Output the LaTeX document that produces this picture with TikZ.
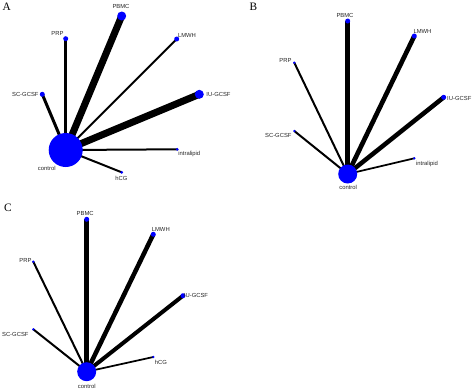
\documentclass[tikz,border=0pt]{standalone}
\usepackage{fontspec}
\setmainfont{Liberation Serif}
\setsansfont{Liberation Sans}
\usetikzlibrary{backgrounds}
\tikzset{
  trt/.style={circle,fill=blue,draw=none,inner sep=0pt,outer sep=0pt},
  lbl/.style={inner sep=0pt,outer sep=0pt,text=black!85,font=\sffamily\fontsize{4.4}{5.3}\selectfont},
  panel/.style={inner sep=0pt,outer sep=0pt,font=\rmfamily\fontsize{8.5}{10}\selectfont},
  link/.style={draw=black,line cap=butt}
}
\begin{document}
\begin{tikzpicture}[x=.75pt,y=-.75pt]
\path[use as bounding box] (0,0) rectangle (474,390);
% panel A
\node[panel] (labA) at (6.8,7) {A};
\node[trt,minimum size=25.5pt] (ctrlA) at (65.7,150) {};
\node[trt,minimum size=6.75pt] (pbmcA) at (121.7,16) {};
\node[trt,minimum size=3.75pt] (prpA) at (65.7,38.7) {};
\node[trt,minimum size=3.75pt] (lmwhA) at (176.7,39) {};
\node[trt,minimum size=3.75pt] (scgA) at (42.3,94.3) {};
\node[trt,minimum size=6.75pt] (iugA) at (199.3,94.3) {};
\node[trt,minimum size=2.25pt] (lipA) at (177.3,149.3) {};
\node[trt,minimum size=2.25pt] (hcgA) at (121.7,172.3) {};
\node[lbl] (pbmcAl) at (121,6.3) {PBMC};
\node[lbl] (prpAl) at (57.5,33.3) {PRP};
\node[lbl] (lmwhAl) at (187,35) {LMWH};
\node[lbl] (scgAl) at (25.3,94.5) {SC-GCSF};
\node[lbl] (iugAl) at (218.5,94.8) {IU-GCSF};
\node[lbl] (lipAl) at (189.3,154.2) {intralipid};
\node[lbl] (hcgAl) at (121.5,178) {hCG};
\node[lbl] (ctrlAl) at (46.8,168.2) {control};
% panel B
\node[panel] (labB) at (253.3,7) {B};
\node[trt,minimum size=14.25pt] (ctrlB) at (347.7,174) {};
\node[trt,minimum size=3.75pt] (pbmcB) at (347.7,21) {};
\node[trt,minimum size=3.75pt] (lmwhB) at (414.3,36) {};
\node[trt,minimum size=1.9pt] (prpB) at (294.3,62.7) {};
\node[trt,minimum size=3.75pt] (iugB) at (443.7,97.3) {};
\node[trt,minimum size=1.9pt] (scgB) at (294.3,131) {};
\node[trt,minimum size=1.9pt] (lipB) at (414.3,158.3) {};
\node[lbl] (pbmcBl) at (345,15) {PBMC};
\node[lbl] (lmwhBl) at (422.5,31) {LMWH};
\node[lbl] (prpBl) at (285.5,60) {PRP};
\node[lbl] (iugBl) at (459.3,98.3) {IU-GCSF};
\node[lbl] (scgBl) at (278.3,135) {SC-GCSF};
\node[lbl] (lipBl) at (427,163.5) {intralipid};
\node[lbl] (ctrlBl) at (348.2,187.5) {control};
% panel C
\node[panel] (labC) at (8,207.8) {C};
\node[trt,minimum size=14.25pt] (ctrlC) at (86.7,371.7) {};
\node[trt,minimum size=3.75pt] (pbmcC) at (86.7,219.3) {};
\node[trt,minimum size=3.75pt] (lmwhC) at (153.3,234.3) {};
\node[trt,minimum size=1.9pt] (prpC) at (33.3,261.7) {};
\node[trt,minimum size=3.75pt] (iugC) at (183,295.7) {};
\node[trt,minimum size=1.9pt] (scgC) at (33.3,329.3) {};
\node[trt,minimum size=1.9pt] (hcgC) at (153.3,357) {};
\node[lbl] (pbmcCl) at (85.2,213.3) {PBMC};
\node[lbl] (lmwhCl) at (160.8,229.3) {LMWH};
\node[lbl] (prpCl) at (25.5,260) {PRP};
\node[lbl] (iugCl) at (196,295.8) {IU-GCSF};
\node[lbl] (scgCl) at (15.3,334.2) {SC-GCSF};
\node[lbl] (hcgCl) at (160.8,362.5) {hCG};
\node[lbl] (ctrlCl) at (86.8,386.2) {control};
% links behind the nodes
\begin{scope}[on background layer]
\draw[link,line width=5.25pt] (ctrlA.center) -- (pbmcA.center);
\draw[link,line width=2.25pt] (ctrlA.center) -- (prpA.center);
\draw[link,line width=1.5pt] (ctrlA.center) -- (lmwhA.center);
\draw[link,line width=2.25pt] (ctrlA.center) -- (scgA.center);
\draw[link,line width=5.25pt] (ctrlA.center) -- (iugA.center);
\draw[link,line width=1.5pt] (ctrlA.center) -- (lipA.center);
\draw[link,line width=1.5pt] (ctrlA.center) -- (hcgA.center);
\draw[link,line width=3.75pt] (ctrlB.center) -- (pbmcB.center);
\draw[link,line width=3.5pt] (ctrlB.center) -- (lmwhB.center);
\draw[link,line width=1.5pt] (ctrlB.center) -- (prpB.center);
\draw[link,line width=3.4pt] (ctrlB.center) -- (iugB.center);
\draw[link,line width=1.5pt] (ctrlB.center) -- (scgB.center);
\draw[link,line width=1.3pt] (ctrlB.center) -- (lipB.center);
\draw[link,line width=3.5pt] (ctrlC.center) -- (pbmcC.center);
\draw[link,line width=3.4pt] (ctrlC.center) -- (lmwhC.center);
\draw[link,line width=1.5pt] (ctrlC.center) -- (prpC.center);
\draw[link,line width=3pt] (ctrlC.center) -- (iugC.center);
\draw[link,line width=1.5pt] (ctrlC.center) -- (scgC.center);
\draw[link,line width=1.3pt] (ctrlC.center) -- (hcgC.center);
\end{scope}
\end{tikzpicture}
\end{document}
